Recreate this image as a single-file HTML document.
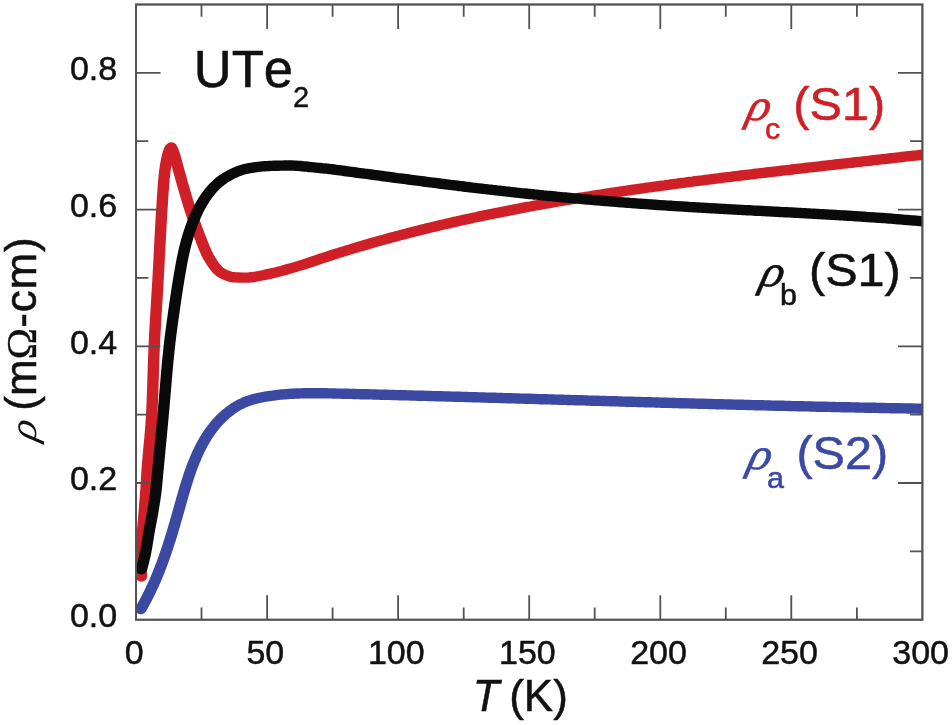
<!DOCTYPE html>
<html><head><meta charset="utf-8"><title>UTe2 resistivity</title>
<style>
html,body{margin:0;padding:0;background:#fff;}
svg{display:block;font-family:"Liberation Sans",sans-serif;font-kerning:none;filter:blur(.45px);}
.tl{font-size:34px;fill:#111;stroke:#111;stroke-width:.5px;}
.ax{font-size:43px;fill:#111;stroke:#111;stroke-width:.5px;}
.lab{font-size:46.5px;}
.par{letter-spacing:0px;}
.sub{font-size:29px;}
.rho{font-family:"Liberation Serif",serif;font-style:italic;font-size:44px;}
.it{font-style:italic;}
</style></head>
<body>
<svg width="952" height="725" viewBox="0 0 952 725">
<defs><clipPath id="frame"><rect x="136" y="4.5" width="786.4" height="615.2"/></clipPath></defs>
<rect width="952" height="725" fill="#fff"/>
<g clip-path="url(#frame)"><g transform="scale(1.1,1)" fill="none" stroke-linecap="round" stroke-linejoin="round" stroke-width="10.4">
<path stroke="#cf2027" d="M128.55 576.5 L128.49 573.9 L128.45 571.4 L128.42 568.8 L128.40 566.2 L128.38 563.6 L128.37 561.1 L128.37 558.5 L128.36 555.9 L128.36 553.4 L128.39 550.8 L128.47 548.2 L128.61 545.7 L128.78 543.1 L128.97 540.6 L129.18 538.0 L129.38 535.4 L129.58 532.9 L129.75 530.3 L129.94 527.7 L130.13 525.2 L130.32 522.6 L130.52 520.1 L130.72 517.5 L130.92 514.9 L131.11 512.4 L131.30 509.8 L131.48 507.3 L131.67 504.7 L131.86 502.1 L132.04 499.6 L132.22 497.0 L132.39 494.4 L132.56 491.9 L132.72 489.3 L132.87 486.8 L133.02 484.2 L133.16 481.6 L133.30 479.1 L133.44 476.5 L133.58 473.9 L133.73 471.4 L133.90 468.8 L134.07 466.2 L134.25 463.7 L134.44 461.1 L134.64 458.6 L134.85 456.0 L135.06 453.4 L135.27 450.9 L135.49 448.3 L135.70 445.8 L135.92 443.2 L136.14 440.6 L136.35 438.1 L136.55 435.5 L136.76 433.0 L136.95 430.4 L137.14 427.8 L137.32 425.3 L137.48 422.7 L137.64 420.1 L137.78 417.6 L137.91 415.0 L138.02 412.5 L138.13 409.9 L138.24 407.3 L138.34 404.8 L138.43 402.2 L138.52 399.6 L138.61 397.1 L138.69 394.5 L138.77 391.9 L138.85 389.4 L138.93 386.8 L139.00 384.2 L139.07 381.6 L139.15 379.1 L139.22 376.5 L139.29 373.9 L139.36 371.4 L139.44 368.8 L139.51 366.2 L139.59 363.7 L139.67 361.1 L139.75 358.5 L139.83 356.0 L139.92 353.4 L140.02 350.8 L140.12 348.3 L140.22 345.7 L140.33 343.1 L140.44 340.6 L140.55 338.0 L140.67 335.4 L140.80 332.9 L140.92 330.3 L141.05 327.7 L141.18 325.2 L141.32 322.6 L141.45 320.0 L141.59 317.5 L141.73 314.9 L141.87 312.3 L142.01 309.8 L142.15 307.2 L142.30 304.6 L142.44 302.1 L142.58 299.5 L142.73 296.9 L142.87 294.4 L143.01 291.8 L143.15 289.3 L143.29 286.7 L143.43 284.1 L143.57 281.6 L143.70 279.0 L143.84 276.4 L143.97 273.9 L144.09 271.3 L144.22 268.7 L144.34 266.2 L144.47 263.6 L144.59 261.0 L144.71 258.5 L144.82 255.9 L144.94 253.3 L145.06 250.8 L145.18 248.2 L145.30 245.6 L145.42 243.1 L145.54 240.5 L145.66 237.9 L145.78 235.4 L145.90 232.8 L146.02 230.2 L146.15 227.7 L146.28 225.1 L146.41 222.5 L146.55 220.0 L146.68 217.4 L146.82 214.8 L146.97 212.3 L147.12 209.7 L147.27 207.2 L147.42 204.6 L147.56 202.0 L147.71 199.5 L147.86 196.9 L148.01 194.3 L148.17 191.7 L148.34 189.2 L148.51 186.6 L148.70 184.1 L148.89 181.5 L149.10 178.9 L149.33 176.4 L149.57 173.8 L149.83 171.3 L150.12 168.7 L150.46 166.2 L150.85 163.6 L151.29 161.1 L151.77 158.6 L152.30 156.1 L152.88 153.6 L153.59 151.2 L154.50 148.8 L155.75 147.4 L156.87 149.8 L157.76 152.2 L158.53 154.6 L159.23 157.1 L159.87 159.5 L160.48 162.0 L161.07 164.5 L161.65 167.0 L162.25 169.5 L162.87 172.0 L163.51 174.4 L164.14 176.9 L164.77 179.4 L165.40 181.9 L166.04 184.3 L166.67 186.8 L167.31 189.3 L167.95 191.8 L168.60 194.2 L169.26 196.7 L169.92 199.2 L170.60 201.6 L171.29 204.1 L171.99 206.5 L172.70 209.0 L173.43 211.4 L174.16 213.8 L174.91 216.3 L175.67 218.7 L176.44 221.1 L177.22 223.6 L178.01 226.0 L178.82 228.4 L179.64 230.8 L180.47 233.2 L181.32 235.6 L182.18 238.0 L183.03 240.4 L183.89 242.8 L184.75 245.2 L185.64 247.7 L186.55 250.1 L187.50 252.4 L188.51 254.7 L189.57 257.0 L190.71 259.1 L191.94 261.3 L193.27 263.5 L194.71 265.7 L196.24 267.9 L197.87 269.9 L199.57 271.6 L201.35 273.0 L203.23 274.1 L205.32 275.1 L207.57 276.0 L209.92 276.8 L212.28 277.3 L214.60 277.4 L216.92 277.5 L219.26 277.6 L221.61 277.6 L223.95 277.6 L226.27 277.5 L228.59 277.3 L230.91 277.0 L233.22 276.5 L235.53 276.0 L237.83 275.5 L240.13 275.0 L242.42 274.4 L244.71 273.9 L246.98 273.4 L249.26 272.8 L251.52 272.2 L253.79 271.5 L256.04 270.9 L258.30 270.2 L260.55 269.5 L262.80 268.8 L265.05 268.1 L267.29 267.4 L269.53 266.6 L271.77 265.9 L274.00 265.1 L276.23 264.4 L278.46 263.6 L280.68 262.8 L282.90 262.0 L285.12 261.2 L287.33 260.4 L289.54 259.5 L291.75 258.7 L293.97 257.9 L296.18 257.1 L298.40 256.3 L300.62 255.5 L302.85 254.7 L305.08 253.9 L307.30 253.1 L309.53 252.4 L311.76 251.6 L314.00 250.9 L316.23 250.1 L318.46 249.4 L320.70 248.6 L322.94 247.9 L325.18 247.1 L327.42 246.4 L329.66 245.7 L331.90 245.0 L334.14 244.3 L336.39 243.5 L338.63 242.8 L340.88 242.1 L343.13 241.4 L345.38 240.7 L347.63 240.1 L349.88 239.4 L352.13 238.7 L354.39 238.0 L356.64 237.3 L358.90 236.7 L361.16 236.0 L363.41 235.4 L365.67 234.7 L367.93 234.1 L370.19 233.4 L372.46 232.8 L374.72 232.1 L376.98 231.5 L379.25 230.9 L381.51 230.2 L383.78 229.6 L386.05 229.0 L388.32 228.4 L390.59 227.8 L392.86 227.2 L395.13 226.6 L397.40 226.0 L399.67 225.4 L401.95 224.8 L404.22 224.2 L406.50 223.6 L408.77 223.1 L411.05 222.5 L413.33 221.9 L415.61 221.4 L417.89 220.8 L420.17 220.2 L422.45 219.7 L424.73 219.1 L427.01 218.6 L429.30 218.0 L431.58 217.5 L433.86 217.0 L436.15 216.4 L438.44 215.9 L440.72 215.4 L443.01 214.9 L445.30 214.3 L447.59 213.8 L449.87 213.3 L452.16 212.8 L454.45 212.3 L456.75 211.8 L459.04 211.3 L461.33 210.8 L463.62 210.3 L465.91 209.8 L468.21 209.3 L470.50 208.8 L472.80 208.4 L475.09 207.9 L477.39 207.4 L479.69 206.9 L481.98 206.5 L484.28 206.0 L486.58 205.5 L488.88 205.1 L491.17 204.6 L493.47 204.2 L495.77 203.7 L498.07 203.3 L500.37 202.8 L502.68 202.4 L504.98 202.0 L507.28 201.5 L509.58 201.1 L511.88 200.7 L514.19 200.2 L516.49 199.8 L518.80 199.4 L521.10 199.0 L523.40 198.5 L525.71 198.1 L528.01 197.7 L530.32 197.3 L532.63 196.9 L534.93 196.5 L537.24 196.1 L539.55 195.7 L541.86 195.3 L544.16 194.9 L546.47 194.5 L548.78 194.1 L551.09 193.7 L553.40 193.3 L555.71 192.9 L558.02 192.5 L560.33 192.2 L562.64 191.8 L564.95 191.4 L567.26 191.0 L569.57 190.7 L571.88 190.3 L574.19 189.9 L576.50 189.5 L578.82 189.2 L581.13 188.8 L583.44 188.5 L585.75 188.1 L588.07 187.7 L590.38 187.4 L592.70 187.0 L595.01 186.7 L597.32 186.3 L599.64 186.0 L601.95 185.6 L604.27 185.3 L606.58 184.9 L608.90 184.6 L611.21 184.2 L613.53 183.9 L615.84 183.6 L618.16 183.2 L620.47 182.9 L622.79 182.6 L625.11 182.2 L627.42 181.9 L629.74 181.6 L632.06 181.2 L634.37 180.9 L636.69 180.6 L639.01 180.3 L641.32 179.9 L643.64 179.6 L645.96 179.3 L648.28 179.0 L650.59 178.6 L652.91 178.3 L655.23 178.0 L657.55 177.7 L659.87 177.4 L662.19 177.1 L664.50 176.8 L666.82 176.4 L669.14 176.1 L671.46 175.8 L673.78 175.5 L676.10 175.2 L678.42 174.9 L680.74 174.6 L683.06 174.3 L685.38 174.0 L687.70 173.7 L690.02 173.4 L692.34 173.1 L694.66 172.8 L696.98 172.5 L699.30 172.2 L701.62 171.9 L703.94 171.6 L706.26 171.3 L708.58 171.0 L710.90 170.7 L713.22 170.4 L715.54 170.1 L717.86 169.8 L720.18 169.5 L722.50 169.2 L724.82 168.9 L727.14 168.6 L729.46 168.3 L731.78 168.0 L734.10 167.7 L736.42 167.4 L738.74 167.2 L741.06 166.9 L743.39 166.6 L745.71 166.3 L748.03 166.0 L750.35 165.7 L752.67 165.4 L754.99 165.1 L757.31 164.8 L759.63 164.5 L761.95 164.3 L764.27 164.0 L766.60 163.7 L768.92 163.4 L771.24 163.1 L773.56 162.8 L775.88 162.5 L778.20 162.2 L780.52 161.9 L782.84 161.7 L785.16 161.4 L787.49 161.1 L789.81 160.8 L792.13 160.5 L794.45 160.2 L796.77 159.9 L799.09 159.6 L801.41 159.3 L803.73 159.1 L806.05 158.8 L808.38 158.5 L810.70 158.2 L813.02 157.9 L815.34 157.6 L817.66 157.3 L819.98 157.0 L822.30 156.7 L824.62 156.4 L826.94 156.1 L829.26 155.8 L831.58 155.6 L833.90 155.3 L836.22 155.0 L838.55 154.7"/>
</g></g>
<g fill="none" stroke="#525252" stroke-width="1.8">
<rect x="136" y="4.5" width="786.4" height="615.2"/>
<path d="M201.5 619.7 v-12.3 M201.5 4.5 v12.3 M267.1 619.7 v-24.5 M267.1 4.5 v24.5 M332.6 619.7 v-12.3 M332.6 4.5 v12.3 M398.1 619.7 v-24.5 M398.1 4.5 v24.5 M463.7 619.7 v-12.3 M463.7 4.5 v12.3 M529.2 619.7 v-24.5 M529.2 4.5 v24.5 M594.7 619.7 v-12.3 M594.7 4.5 v12.3 M660.3 619.7 v-24.5 M660.3 4.5 v24.5 M725.8 619.7 v-12.3 M725.8 4.5 v12.3 M791.3 619.7 v-24.5 M791.3 4.5 v24.5 M856.9 619.7 v-12.3 M856.9 4.5 v12.3 M136.0 551.3 h12.3 M922.4 551.3 h-12.3 M136.0 483.0 h24.5 M922.4 483.0 h-24.5 M136.0 414.6 h12.3 M922.4 414.6 h-12.3 M136.0 346.3 h24.5 M922.4 346.3 h-24.5 M136.0 277.9 h12.3 M922.4 277.9 h-12.3 M136.0 209.6 h24.5 M922.4 209.6 h-24.5 M136.0 141.2 h12.3 M922.4 141.2 h-12.3 M136.0 72.9 h24.5 M922.4 72.9 h-24.5"/>
</g>
<g clip-path="url(#frame)"><g transform="scale(1.1,1)" fill="none" stroke-linecap="round" stroke-linejoin="round" stroke-width="10.4">
<path stroke="#0a0a0a" d="M128.55 569.3 L129.09 567.2 L129.63 565.0 L130.14 562.9 L130.64 560.7 L131.12 558.5 L131.58 556.4 L132.01 554.2 L132.41 552.0 L132.79 549.9 L133.14 547.7 L133.48 545.5 L133.81 543.3 L134.12 541.1 L134.44 538.9 L134.76 536.7 L135.08 534.5 L135.42 532.3 L135.78 530.1 L136.14 527.9 L136.52 525.7 L136.90 523.6 L137.27 521.4 L137.65 519.2 L138.02 517.0 L138.38 514.8 L138.72 512.6 L139.05 510.4 L139.38 508.2 L139.71 506.0 L140.03 503.8 L140.35 501.7 L140.65 499.5 L140.94 497.3 L141.22 495.0 L141.49 492.8 L141.73 490.6 L141.96 488.4 L142.17 486.2 L142.37 484.0 L142.57 481.8 L142.75 479.6 L142.93 477.4 L143.11 475.2 L143.30 472.9 L143.48 470.7 L143.67 468.5 L143.87 466.3 L144.06 464.1 L144.25 461.9 L144.44 459.7 L144.64 457.4 L144.83 455.2 L145.02 453.0 L145.21 450.8 L145.40 448.6 L145.59 446.4 L145.78 444.2 L145.98 442.0 L146.17 439.7 L146.36 437.5 L146.55 435.3 L146.74 433.1 L146.92 430.9 L147.11 428.7 L147.30 426.5 L147.49 424.3 L147.68 422.0 L147.87 419.8 L148.05 417.6 L148.24 415.4 L148.42 413.2 L148.61 411.0 L148.79 408.8 L148.97 406.5 L149.14 404.3 L149.32 402.1 L149.49 399.9 L149.66 397.7 L149.83 395.5 L150.00 393.2 L150.17 391.0 L150.34 388.8 L150.51 386.6 L150.69 384.4 L150.86 382.2 L151.03 380.0 L151.20 377.7 L151.38 375.5 L151.55 373.3 L151.73 371.1 L151.91 368.9 L152.09 366.7 L152.28 364.5 L152.47 362.2 L152.66 360.0 L152.86 357.8 L153.05 355.6 L153.26 353.4 L153.46 351.2 L153.68 349.0 L153.89 346.8 L154.12 344.6 L154.35 342.3 L154.58 340.1 L154.83 337.9 L155.08 335.7 L155.33 333.5 L155.59 331.3 L155.86 329.1 L156.13 326.9 L156.40 324.7 L156.68 322.5 L156.95 320.3 L157.23 318.1 L157.51 315.9 L157.80 313.7 L158.08 311.5 L158.36 309.3 L158.65 307.1 L158.94 304.9 L159.23 302.7 L159.52 300.5 L159.82 298.3 L160.12 296.1 L160.42 293.9 L160.73 291.7 L161.04 289.5 L161.35 287.3 L161.67 285.1 L161.99 282.9 L162.31 280.7 L162.64 278.5 L162.98 276.3 L163.31 274.1 L163.65 271.9 L164.00 269.8 L164.35 267.6 L164.70 265.4 L165.07 263.2 L165.44 261.0 L165.83 258.8 L166.23 256.6 L166.65 254.5 L167.09 252.3 L167.54 250.1 L168.01 248.0 L168.50 245.8 L169.01 243.6 L169.53 241.5 L170.08 239.4 L170.64 237.2 L171.22 235.1 L171.82 233.0 L172.45 230.9 L173.10 228.8 L173.78 226.7 L174.48 224.6 L175.20 222.5 L175.95 220.4 L176.73 218.3 L177.53 216.3 L178.35 214.3 L179.20 212.2 L180.07 210.2 L180.97 208.3 L181.90 206.3 L182.89 204.4 L183.93 202.5 L185.00 200.6 L186.12 198.7 L187.26 196.8 L188.44 195.0 L189.64 193.3 L190.88 191.5 L192.18 189.8 L193.53 188.1 L194.94 186.5 L196.38 185.0 L197.87 183.5 L199.42 182.0 L201.01 180.6 L202.65 179.3 L204.32 178.0 L206.03 176.9 L207.78 175.9 L209.57 174.8 L211.39 173.8 L213.25 172.8 L215.13 171.9 L217.03 171.0 L218.95 170.3 L220.87 169.6 L222.81 169.0 L224.74 168.6 L226.70 168.2 L228.67 167.8 L230.67 167.5 L232.68 167.1 L234.70 166.8 L236.73 166.6 L238.76 166.4 L240.79 166.2 L242.81 166.1 L244.83 166.0 L246.84 165.9 L248.86 165.8 L250.88 165.7 L252.90 165.7 L254.93 165.6 L256.95 165.6 L258.97 165.5 L260.99 165.5 L263.01 165.5 L265.03 165.5 L267.05 165.6 L269.06 165.7 L271.08 165.9 L273.09 166.0 L275.11 166.3 L277.12 166.5 L279.13 166.7 L281.15 167.0 L283.16 167.2 L285.17 167.4 L287.18 167.6 L289.20 167.8 L291.21 168.0 L293.22 168.3 L295.23 168.5 L297.24 168.7 L299.25 169.0 L301.25 169.2 L303.26 169.5 L305.27 169.8 L307.27 170.1 L309.27 170.4 L311.28 170.7 L313.28 171.0 L315.28 171.3 L317.28 171.6 L319.28 171.9 L321.29 172.2 L323.29 172.5 L325.29 172.8 L327.30 173.1 L329.30 173.4 L331.30 173.7 L333.31 173.9 L335.31 174.2 L337.31 174.5 L339.31 174.8 L341.32 175.1 L343.32 175.4 L345.32 175.7 L347.33 176.0 L349.33 176.3 L351.33 176.6 L353.34 176.9 L355.34 177.2 L357.34 177.5 L359.35 177.8 L361.35 178.1 L363.35 178.3 L365.36 178.6 L367.36 178.9 L369.37 179.2 L371.37 179.5 L373.37 179.8 L375.38 180.1 L377.38 180.4 L379.39 180.7 L381.39 180.9 L383.39 181.2 L385.40 181.5 L387.40 181.8 L389.41 182.1 L391.41 182.4 L393.42 182.6 L395.42 182.9 L397.43 183.2 L399.43 183.5 L401.44 183.8 L403.44 184.0 L405.45 184.3 L407.45 184.6 L409.46 184.9 L411.46 185.1 L413.47 185.4 L415.48 185.7 L417.48 186.0 L419.49 186.2 L421.49 186.5 L423.50 186.8 L425.51 187.0 L427.51 187.3 L429.52 187.6 L431.53 187.8 L433.53 188.1 L435.54 188.3 L437.55 188.6 L439.55 188.9 L441.56 189.1 L443.57 189.4 L445.58 189.6 L447.58 189.9 L449.59 190.1 L451.60 190.4 L453.61 190.6 L455.62 190.9 L457.63 191.1 L459.63 191.4 L461.64 191.6 L463.65 191.9 L465.66 192.1 L467.67 192.3 L469.68 192.6 L471.69 192.8 L473.70 193.1 L475.71 193.3 L477.72 193.5 L479.73 193.8 L481.74 194.0 L483.75 194.2 L485.76 194.5 L487.77 194.7 L489.78 194.9 L491.79 195.1 L493.80 195.4 L495.81 195.6 L497.82 195.8 L499.83 196.0 L501.84 196.2 L503.86 196.4 L505.87 196.7 L507.88 196.9 L509.89 197.1 L511.90 197.3 L513.92 197.5 L515.93 197.7 L517.94 197.9 L519.95 198.1 L521.97 198.3 L523.98 198.5 L525.99 198.7 L528.00 198.9 L530.02 199.1 L532.03 199.3 L534.04 199.5 L536.06 199.7 L538.07 199.9 L540.08 200.1 L542.10 200.3 L544.11 200.4 L546.13 200.6 L548.14 200.8 L550.15 201.0 L552.17 201.2 L554.18 201.4 L556.20 201.5 L558.21 201.7 L560.23 201.9 L562.24 202.1 L564.26 202.2 L566.27 202.4 L568.29 202.6 L570.30 202.7 L572.32 202.9 L574.33 203.1 L576.35 203.2 L578.36 203.4 L580.38 203.6 L582.39 203.7 L584.41 203.9 L586.43 204.0 L588.44 204.2 L590.46 204.4 L592.47 204.5 L594.49 204.7 L596.51 204.8 L598.52 205.0 L600.54 205.1 L602.56 205.3 L604.57 205.4 L606.59 205.6 L608.61 205.7 L610.62 205.8 L612.64 206.0 L614.66 206.1 L616.67 206.3 L618.69 206.4 L620.71 206.5 L622.72 206.7 L624.74 206.8 L626.76 207.0 L628.78 207.1 L630.79 207.2 L632.81 207.4 L634.83 207.5 L636.85 207.6 L638.86 207.7 L640.88 207.9 L642.90 208.0 L644.92 208.1 L646.93 208.3 L648.95 208.4 L650.97 208.5 L652.99 208.6 L655.00 208.8 L657.02 208.9 L659.04 209.0 L661.06 209.1 L663.08 209.3 L665.09 209.4 L667.11 209.5 L669.13 209.6 L671.15 209.7 L673.17 209.9 L675.18 210.0 L677.20 210.1 L679.22 210.2 L681.24 210.3 L683.26 210.4 L685.28 210.6 L687.29 210.7 L689.31 210.8 L691.33 210.9 L693.35 211.0 L695.37 211.1 L697.38 211.3 L699.40 211.4 L701.42 211.5 L703.44 211.6 L705.46 211.7 L707.48 211.8 L709.49 212.0 L711.51 212.1 L713.53 212.2 L715.55 212.3 L717.57 212.4 L719.59 212.5 L721.60 212.7 L723.62 212.8 L725.64 212.9 L727.66 213.0 L729.68 213.1 L731.69 213.2 L733.71 213.4 L735.73 213.5 L737.75 213.6 L739.77 213.7 L741.78 213.9 L743.80 214.0 L745.82 214.1 L747.84 214.2 L749.86 214.4 L751.87 214.5 L753.89 214.6 L755.91 214.7 L757.93 214.9 L759.94 215.0 L761.96 215.1 L763.98 215.3 L766.00 215.4 L768.01 215.5 L770.03 215.7 L772.05 215.8 L774.06 215.9 L776.08 216.1 L778.10 216.2 L780.11 216.4 L782.13 216.5 L784.15 216.7 L786.16 216.8 L788.18 217.0 L790.20 217.1 L792.21 217.3 L794.23 217.4 L796.25 217.6 L798.26 217.7 L800.28 217.9 L802.29 218.0 L804.31 218.2 L806.32 218.4 L808.34 218.5 L810.35 218.7 L812.37 218.9 L814.38 219.1 L816.40 219.2 L818.41 219.4 L820.43 219.6 L822.44 219.8 L824.45 220.0 L826.47 220.2 L828.48 220.4 L830.49 220.5 L832.51 220.7 L834.52 220.9 L836.53 221.2 L838.55 221.4"/>
<path stroke="#3b49a3" d="M128.02 609.1 L128.87 607.4 L129.70 605.8 L130.53 604.2 L131.34 602.5 L132.14 600.9 L132.93 599.2 L133.70 597.6 L134.46 595.9 L135.22 594.3 L135.96 592.6 L136.69 591.0 L137.40 589.3 L138.11 587.6 L138.81 586.0 L139.49 584.3 L140.17 582.6 L140.84 581.0 L141.50 579.3 L142.14 577.6 L142.78 576.0 L143.41 574.3 L144.03 572.6 L144.65 570.9 L145.25 569.2 L145.85 567.5 L146.44 565.8 L147.02 564.2 L147.59 562.5 L148.16 560.8 L148.72 559.1 L149.27 557.4 L149.82 555.6 L150.36 553.9 L150.89 552.2 L151.42 550.5 L151.94 548.8 L152.46 547.1 L152.97 545.3 L153.48 543.6 L153.98 541.9 L154.48 540.2 L154.98 538.4 L155.47 536.7 L155.95 534.9 L156.44 533.2 L156.91 531.4 L157.39 529.7 L157.86 527.9 L158.34 526.2 L158.80 524.4 L159.27 522.7 L159.73 520.9 L160.20 519.1 L160.66 517.3 L161.12 515.6 L161.57 513.8 L162.03 512.0 L162.49 510.2 L162.94 508.4 L163.40 506.6 L163.86 504.8 L164.32 503.0 L164.78 501.2 L165.24 499.4 L165.70 497.6 L166.17 495.8 L166.64 494.0 L167.12 492.2 L167.60 490.4 L168.08 488.6 L168.57 486.8 L169.07 485.0 L169.57 483.3 L170.08 481.5 L170.60 479.7 L171.12 477.9 L171.65 476.1 L172.19 474.4 L172.75 472.6 L173.31 470.8 L173.88 469.1 L174.46 467.4 L175.05 465.6 L175.65 463.9 L176.27 462.2 L176.90 460.5 L177.54 458.8 L178.19 457.1 L178.86 455.4 L179.54 453.7 L180.24 452.1 L180.95 450.4 L181.68 448.8 L182.43 447.2 L183.19 445.6 L183.97 444.0 L184.77 442.4 L185.58 440.8 L186.42 439.2 L187.27 437.7 L188.14 436.2 L189.03 434.7 L189.95 433.2 L190.88 431.7 L191.84 430.3 L192.82 428.8 L193.82 427.4 L194.84 426.0 L195.88 424.6 L196.95 423.2 L198.05 421.9 L199.17 420.6 L200.31 419.3 L201.48 418.0 L202.67 416.7 L203.89 415.5 L205.14 414.3 L206.40 413.1 L207.69 412.0 L209.00 410.9 L210.34 409.8 L211.70 408.7 L213.08 407.7 L214.49 406.8 L215.92 405.8 L217.37 404.9 L218.84 404.1 L220.33 403.3 L221.84 402.5 L223.38 401.8 L224.94 401.2 L226.52 400.6 L228.11 400.0 L229.72 399.5 L231.35 399.0 L232.99 398.5 L234.63 398.1 L236.29 397.7 L237.94 397.4 L239.61 397.0 L241.27 396.7 L242.93 396.4 L244.59 396.1 L246.26 395.8 L247.92 395.6 L249.59 395.3 L251.25 395.1 L252.91 394.9 L254.58 394.7 L256.25 394.5 L257.91 394.4 L259.58 394.2 L261.24 394.1 L262.91 393.9 L264.58 393.8 L266.24 393.7 L267.91 393.6 L269.58 393.5 L271.24 393.5 L272.91 393.4 L274.58 393.4 L276.25 393.3 L277.92 393.3 L279.58 393.2 L281.25 393.2 L282.92 393.2 L284.59 393.2 L286.26 393.2 L287.93 393.2 L289.60 393.2 L291.27 393.2 L292.94 393.3 L294.61 393.3 L296.27 393.3 L297.94 393.4 L299.61 393.4 L301.28 393.4 L302.95 393.5 L304.62 393.5 L306.29 393.6 L307.96 393.6 L309.63 393.6 L311.30 393.7 L312.97 393.7 L314.64 393.8 L316.31 393.8 L317.98 393.9 L319.65 393.9 L321.32 394.0 L322.99 394.0 L324.65 394.1 L326.32 394.1 L327.99 394.2 L329.66 394.2 L331.33 394.2 L333.00 394.3 L334.67 394.3 L336.34 394.4 L338.01 394.4 L339.68 394.5 L341.35 394.5 L343.02 394.6 L344.69 394.6 L346.35 394.7 L348.02 394.7 L349.69 394.8 L351.36 394.8 L353.03 394.9 L354.70 394.9 L356.37 395.0 L358.04 395.0 L359.71 395.1 L361.38 395.1 L363.04 395.2 L364.71 395.2 L366.38 395.3 L368.05 395.3 L369.72 395.4 L371.39 395.4 L373.06 395.5 L374.73 395.5 L376.39 395.6 L378.06 395.6 L379.73 395.7 L381.40 395.7 L383.07 395.8 L384.74 395.8 L386.41 395.9 L388.08 395.9 L389.74 396.0 L391.41 396.0 L393.08 396.1 L394.75 396.1 L396.42 396.2 L398.09 396.2 L399.76 396.3 L401.43 396.3 L403.09 396.4 L404.76 396.4 L406.43 396.5 L408.10 396.5 L409.77 396.6 L411.44 396.6 L413.10 396.7 L414.77 396.7 L416.44 396.8 L418.11 396.8 L419.78 396.9 L421.45 396.9 L423.12 397.0 L424.78 397.0 L426.45 397.1 L428.12 397.1 L429.79 397.2 L431.46 397.3 L433.13 397.3 L434.79 397.4 L436.46 397.4 L438.13 397.5 L439.80 397.5 L441.47 397.6 L443.14 397.6 L444.80 397.7 L446.47 397.7 L448.14 397.8 L449.81 397.8 L451.48 397.9 L453.15 397.9 L454.81 398.0 L456.48 398.0 L458.15 398.1 L459.82 398.1 L461.49 398.2 L463.15 398.3 L464.82 398.3 L466.49 398.4 L468.16 398.4 L469.83 398.5 L471.50 398.5 L473.16 398.6 L474.83 398.6 L476.50 398.7 L478.17 398.7 L479.84 398.8 L481.50 398.8 L483.17 398.9 L484.84 398.9 L486.51 399.0 L488.18 399.1 L489.84 399.1 L491.51 399.2 L493.18 399.2 L494.85 399.3 L496.52 399.3 L498.18 399.4 L499.85 399.4 L501.52 399.5 L503.19 399.5 L504.86 399.6 L506.53 399.6 L508.19 399.7 L509.86 399.7 L511.53 399.8 L513.20 399.9 L514.87 399.9 L516.53 400.0 L518.20 400.0 L519.87 400.1 L521.54 400.1 L523.21 400.2 L524.87 400.2 L526.54 400.3 L528.21 400.3 L529.88 400.4 L531.54 400.4 L533.21 400.5 L534.88 400.6 L536.55 400.6 L538.22 400.7 L539.88 400.7 L541.55 400.8 L543.22 400.8 L544.89 400.9 L546.56 400.9 L548.22 401.0 L549.89 401.0 L551.56 401.1 L553.23 401.1 L554.90 401.2 L556.56 401.2 L558.23 401.3 L559.90 401.3 L561.57 401.4 L563.24 401.5 L564.90 401.5 L566.57 401.6 L568.24 401.6 L569.91 401.7 L571.58 401.7 L573.24 401.8 L574.91 401.8 L576.58 401.9 L578.25 401.9 L579.92 402.0 L581.58 402.0 L583.25 402.1 L584.92 402.1 L586.59 402.2 L588.26 402.2 L589.92 402.3 L591.59 402.3 L593.26 402.4 L594.93 402.4 L596.60 402.5 L598.26 402.5 L599.93 402.6 L601.60 402.7 L603.27 402.7 L604.94 402.8 L606.60 402.8 L608.27 402.9 L609.94 402.9 L611.61 403.0 L613.28 403.0 L614.94 403.1 L616.61 403.1 L618.28 403.2 L619.95 403.2 L621.62 403.3 L623.28 403.3 L624.95 403.4 L626.62 403.4 L628.29 403.5 L629.96 403.5 L631.62 403.6 L633.29 403.6 L634.96 403.7 L636.63 403.7 L638.30 403.8 L639.96 403.8 L641.63 403.9 L643.30 403.9 L644.97 404.0 L646.64 404.0 L648.31 404.1 L649.97 404.1 L651.64 404.2 L653.31 404.2 L654.98 404.3 L656.65 404.3 L658.31 404.4 L659.98 404.4 L661.65 404.5 L663.32 404.5 L664.99 404.5 L666.66 404.6 L668.32 404.6 L669.99 404.7 L671.66 404.7 L673.33 404.8 L675.00 404.8 L676.67 404.9 L678.33 404.9 L680.00 405.0 L681.67 405.0 L683.34 405.1 L685.01 405.1 L686.67 405.2 L688.34 405.2 L690.01 405.3 L691.68 405.3 L693.35 405.3 L695.02 405.4 L696.69 405.4 L698.35 405.5 L700.02 405.5 L701.69 405.6 L703.36 405.6 L705.03 405.7 L706.70 405.7 L708.36 405.8 L710.03 405.8 L711.70 405.8 L713.37 405.9 L715.04 405.9 L716.71 406.0 L718.38 406.0 L720.04 406.1 L721.71 406.1 L723.38 406.1 L725.05 406.2 L726.72 406.2 L728.39 406.3 L730.06 406.3 L731.72 406.4 L733.39 406.4 L735.06 406.4 L736.73 406.5 L738.40 406.5 L740.07 406.6 L741.74 406.6 L743.41 406.7 L745.07 406.7 L746.74 406.7 L748.41 406.8 L750.08 406.8 L751.75 406.9 L753.42 406.9 L755.09 406.9 L756.76 407.0 L758.43 407.0 L760.09 407.1 L761.76 407.1 L763.43 407.1 L765.10 407.2 L766.77 407.2 L768.44 407.3 L770.11 407.3 L771.78 407.3 L773.45 407.4 L775.12 407.4 L776.78 407.4 L778.45 407.5 L780.12 407.5 L781.79 407.6 L783.46 407.6 L785.13 407.6 L786.80 407.7 L788.47 407.7 L790.14 407.7 L791.81 407.8 L793.48 407.8 L795.15 407.8 L796.82 407.9 L798.48 407.9 L800.15 408.0 L801.82 408.0 L803.49 408.0 L805.16 408.1 L806.83 408.1 L808.50 408.1 L810.17 408.2 L811.84 408.2 L813.51 408.2 L815.18 408.3 L816.85 408.3 L818.52 408.3 L820.19 408.4 L821.86 408.4 L823.53 408.4 L825.20 408.5 L826.87 408.5 L828.54 408.5 L830.21 408.5 L831.88 408.6 L833.55 408.6 L835.22 408.6 L836.88 408.7 L838.55 408.7"/>
</g></g>
<rect x="136" y="4.5" width="786.4" height="615.2" fill="none" stroke="#525252" stroke-width="1.8"/>

<g class="tl" text-anchor="middle"><text x="134.2" y="664.1">0</text><text x="265.3" y="664.1">50</text><text x="396.3" y="664.1">100</text><text x="527.4" y="664.1">150</text><text x="658.5" y="664.1">200</text><text x="789.5" y="664.1">250</text><text x="920.6" y="664.1">300</text></g>
<g class="tl" text-anchor="end"><text x="117.2" y="626.9">0.0</text><text x="117.2" y="490.2">0.2</text><text x="117.2" y="353.5">0.4</text><text x="117.2" y="216.8">0.6</text><text x="117.2" y="80.1">0.8</text></g>
<text class="ax it" style="font-size:43.5px" x="472.8" y="711.3">T</text><text class="ax" style="font-size:44px" x="509.2" y="711.3">(K)</text>
<text class="rho" style="font-size:38px" fill="#111" transform="translate(36.2,441.9) rotate(-90) scale(1.1,1) skewX(-12)">ρ</text>
<text class="ax" style="font-size:44px" transform="translate(36.2,410.7) rotate(-90)">(m</text><text class="ax" style="font-size:42.5px;font-family:'Liberation Serif',serif;stroke-width:.3px" transform="translate(35.8,359.4) rotate(-90)">Ω</text><text class="ax" style="font-size:44px;letter-spacing:.8px" text-anchor="end" transform="translate(36.2,236.6) rotate(-90)">-cm)</text>
<text transform="translate(193.8,86.7) scale(1.03,1)" font-size="51" fill="#111" stroke="#111" stroke-width=".55">UTe</text>
<text class="sub" x="293" y="106.8" fill="#111" stroke="#111" stroke-width=".4">2</text>
<g fill="#cf2027" stroke="#cf2027" stroke-width=".55">
<text class="rho" transform="translate(745,120) scale(1.1,1) skewX(-12)">ρ</text><text class="sub" transform="translate(765,139) scale(1.05,1)">c</text><text class="lab par" transform="translate(793.3,120) scale(1.045,1)">(S1)</text>
</g>
<g fill="#111" stroke="#111" stroke-width=".55">
<text class="rho" transform="translate(758.5,286) scale(1.1,1) skewX(-12)">ρ</text><text class="sub" transform="translate(780,305) scale(1.05,1)">b</text><text class="lab par" transform="translate(809,286) scale(1.045,1)">(S1)</text>
</g>
<g fill="#3b49a3" stroke="#3b49a3" stroke-width=".55">
<text class="rho" transform="translate(746,469.4) scale(1.1,1) skewX(-12)">ρ</text><text class="sub" transform="translate(767,488) scale(1.05,1)">a</text><text class="lab par" transform="translate(796.4,469.4) scale(1.045,1)">(S2)</text>
</g>
</svg>
</body></html>
